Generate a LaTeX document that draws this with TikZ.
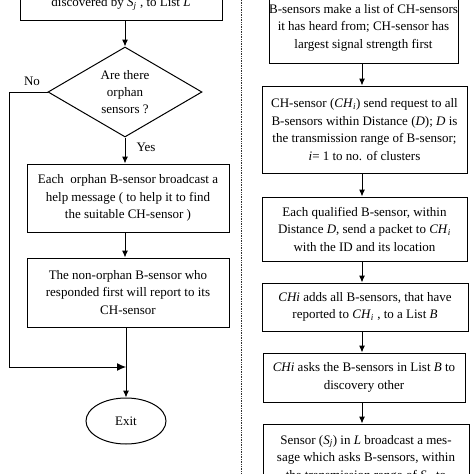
\documentclass[tikz,border=0pt]{standalone}
\usepackage{fontspec}
\setmainfont{Liberation Serif}
\usetikzlibrary{shapes.geometric,arrows.meta}
\newcommand{\itsub}[2]{\textit{#1}\textsubscript{\textit{#2}}}
\tikzset{
  boxnode/.style={draw, line width=1pt, rectangle, inner sep=0pt, align=center,
    font=\fontsize{13}{17.5}\selectfont},
  decision/.style={draw, line width=1pt, diamond, aspect=1.7, inner sep=0pt, align=center,
    minimum width=154pt, minimum height=90pt, font=\fontsize{13}{17}\selectfont},
  terminal/.style={draw, line width=1pt, ellipse, inner sep=0pt,
    minimum width=80pt, minimum height=46pt, font=\fontsize{13}{16}\selectfont},
  lbl/.style={inner sep=0pt, font=\fontsize{13}{16}\selectfont},
  arr/.style={line width=1pt, -{Latex[length=7pt,width=6pt]}},
  bigarr/.style={line width=1pt, -{Latex[length=9pt,width=8pt]}},
  sep/.style={line width=0.7pt, densely dotted, black!80}
}
\begin{document}
\begin{tikzpicture}[x=1pt,y=-1pt]
\useasboundingbox (0,0) rectangle (474,474);
\clip (0,0) rectangle (474,474);
% separator
\coordinate (septop) at (241,0);
\coordinate (sepbot) at (241,474);
\draw[sep] (septop) -- (sepbot);
% left column
\node[boxnode, minimum width=202pt, minimum height=32pt] (L0) at (121,4)
  {discovered by \itsub{S}{j} , to List \textit{L}};
\node[decision] (D) at (125,92) {Are there\\orphan\\sensors ?};
\node[boxnode, minimum width=202pt, minimum height=68pt] (L2) at (128,198)
  {Each \ orphan B-sensor broadcast a\\help message ( to help it to find\\the suitable CH-sensor )};
\node[boxnode, minimum width=202pt, minimum height=69pt] (L3) at (128,292.5)
  {The non-orphan B-sensor who\\responded first will report to its\\CH-sensor};
\node[terminal] (E) at (126,421) {Exit};
\node[lbl] (no) at (32,81) {No};
\node[lbl] (yes) at (146,147) {Yes};
\coordinate (nocorner) at (9,92);
\coordinate (join) at (126,367);
\draw[arr] (D.north |- L0.south) -- (D.north);
\draw[arr] (D.south) -- (D.south |- L2.north);
\draw[arr] (L2.south -| D.south) -- (L3.north -| D.south);
\draw[arr] (L3.south -| E.north) -- (E.north);
\draw[bigarr] (D.west) -- (nocorner) |- (join);
% right column
\node[boxnode, minimum width=189pt, minimum height=71pt] (R1) at (363.5,27.5)
  {B-sensors make a list of CH-sensors\\it has heard from; CH-sensor has\\largest signal strength first};
\node[boxnode, minimum width=205pt, minimum height=87pt] (R2) at (364.5,129.5)
  {CH-sensor (\itsub{CH}{i}) send request to all\\B-sensors within Distance (\textit{D}); \textit{D} is\\the transmission range of B-sensor;\\\textit{i}= 1 to no. of clusters};
\node[boxnode, minimum width=205pt, minimum height=64pt] (R3) at (364.5,229)
  {Each qualified B-sensor, within\\Distance \textit{D}, send a packet to \itsub{CH}{i}\\with the ID and its location};
\node[boxnode, minimum width=206pt, minimum height=48pt] (R4) at (365,307)
  {\textit{CHi} adds all B-sensors, that have\\reported to \itsub{CH}{i} , to a List \textit{B}};
\node[boxnode, minimum width=202pt, minimum height=49pt] (R5) at (364,377.5)
  {\textit{CHi} asks the B-sensors in List \textit{B} to\\discovery other};
\node[boxnode, minimum width=206pt, minimum height=70pt] (R6) at (366,459)
  {Sensor (\itsub{S}{j}) in \textit{L} broadcast a mes-\\sage which asks B-sensors, within\\the transmission range of \itsub{S}{j}, to};
\coordinate (rx) at (362,0);
\draw[arr] (rx |- R1.south) -- (rx |- R2.north);
\draw[arr] (rx |- R2.south) -- (rx |- R3.north);
\draw[arr] (rx |- R3.south) -- (rx |- R4.north);
\draw[arr] (rx |- R4.south) -- (rx |- R5.north);
\draw[arr] (rx |- R5.south) -- (rx |- R6.north);
\end{tikzpicture}
\end{document}
